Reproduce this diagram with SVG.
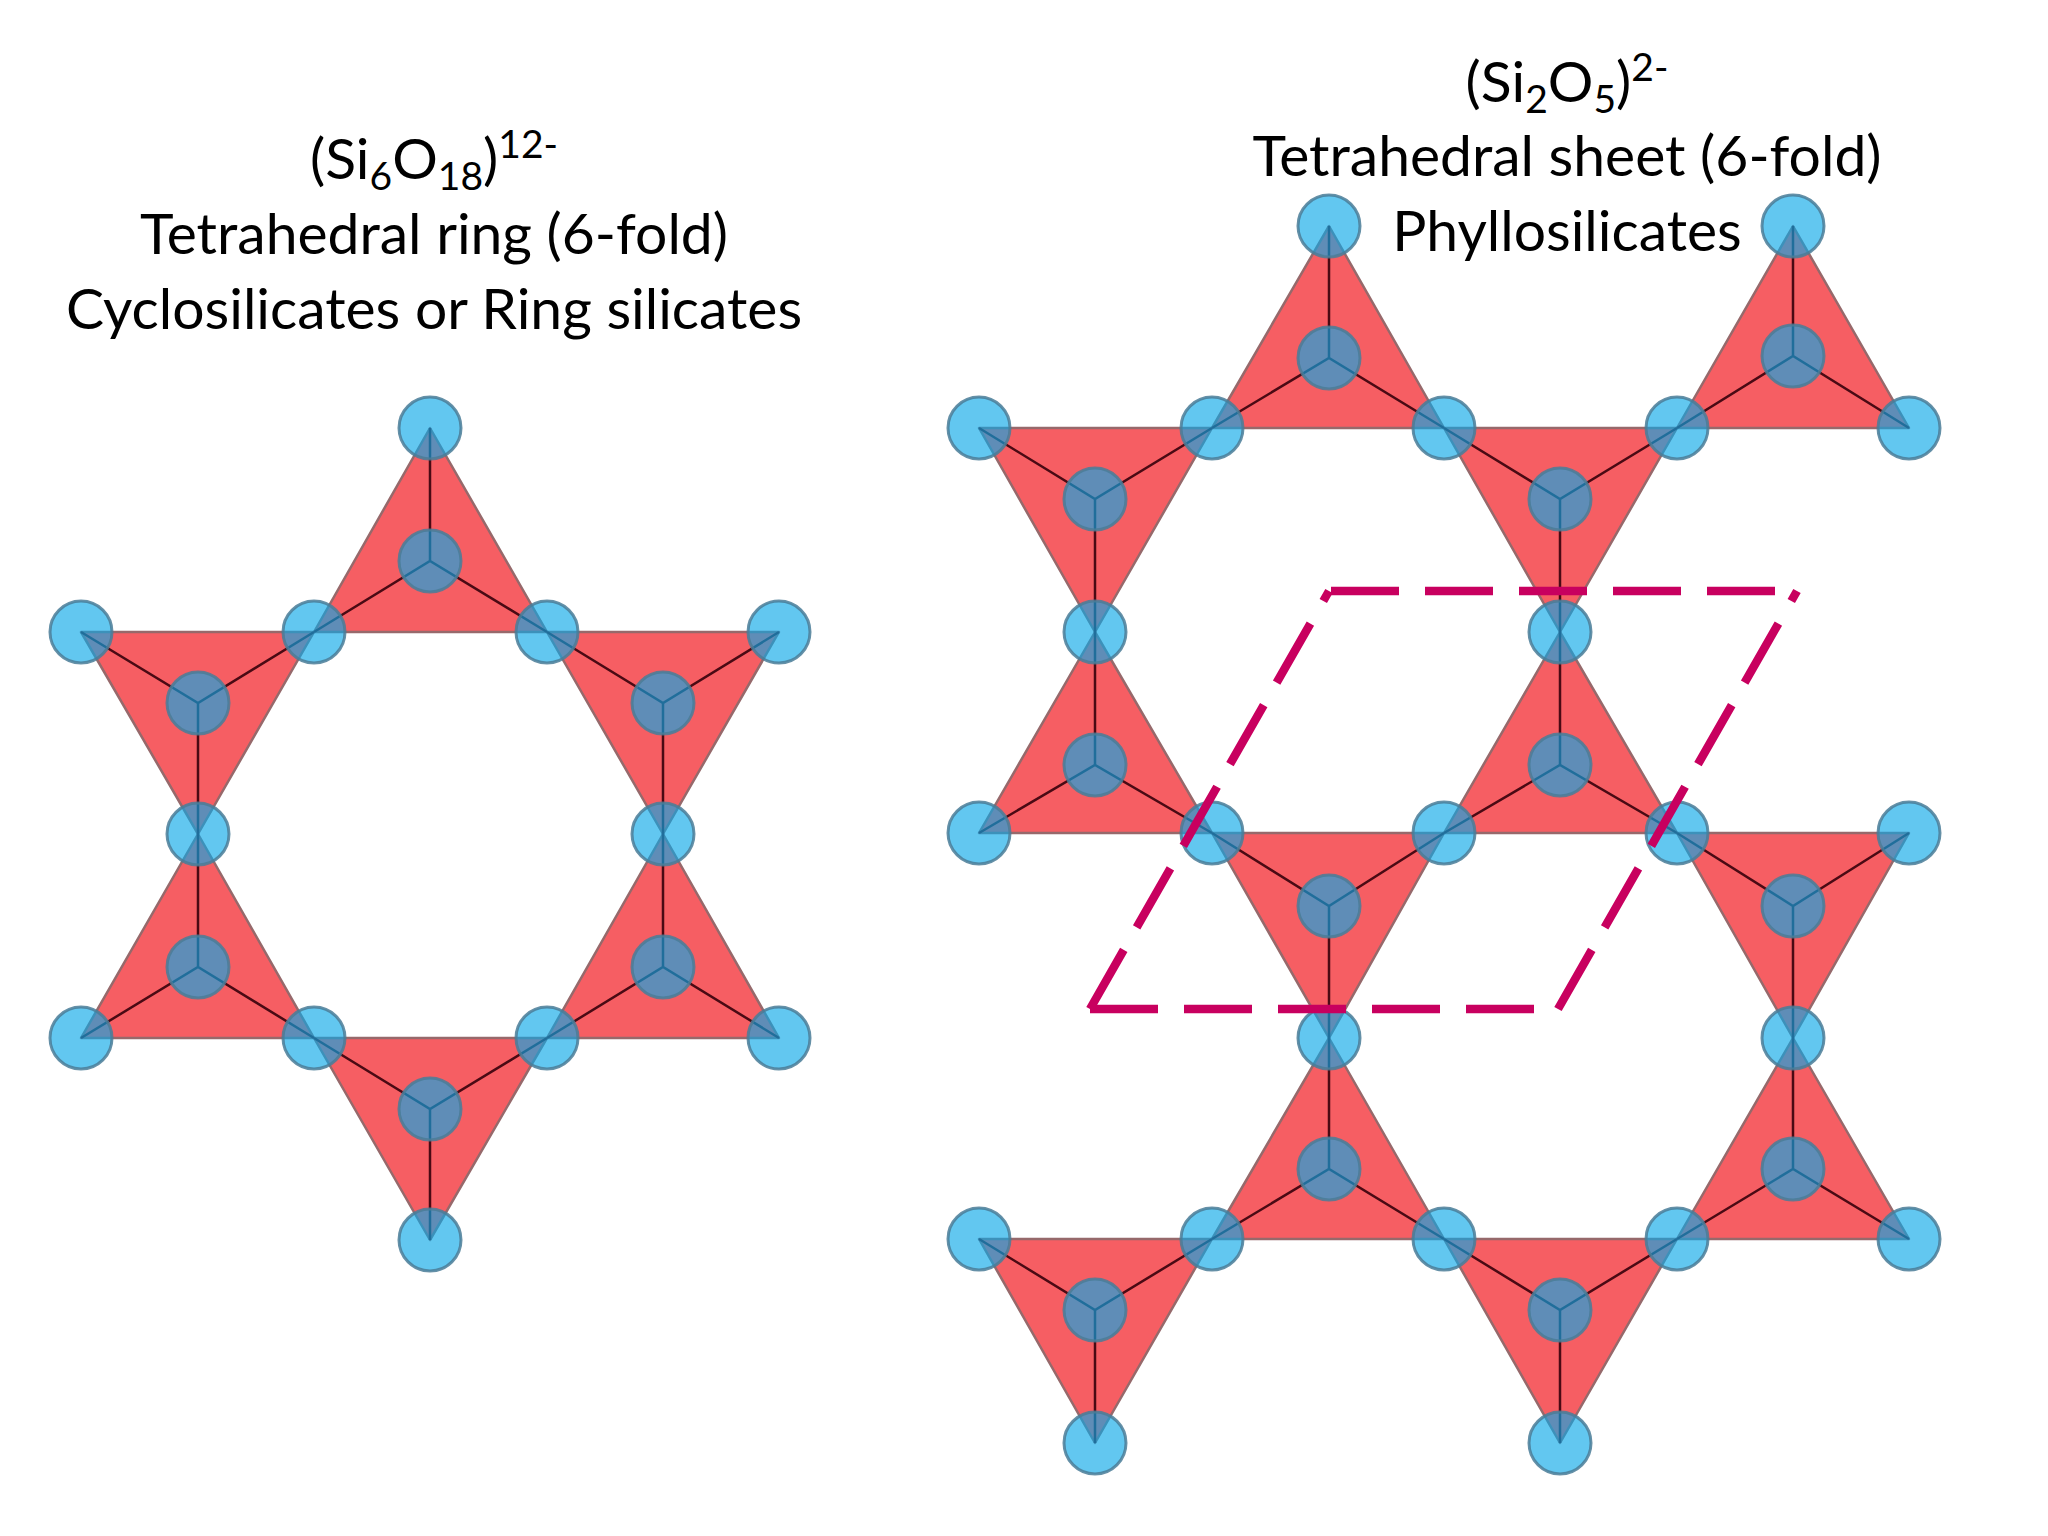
<svg xmlns="http://www.w3.org/2000/svg" width="2048" height="1536" viewBox="0 0 2048 1536">
<style>
.t{fill:#f65e63;stroke:#96696b;stroke-width:2.5;stroke-linejoin:round}
.b{fill:none;stroke:#4a0a14;stroke-width:2.5}
.o{fill:#0aa8e8;fill-opacity:.64;stroke:#4a7c98;stroke-opacity:.85;stroke-width:3}
.d{stroke:#c8005f;stroke-width:8.5;stroke-dasharray:68 26;fill:none}
text{font-family:"Lato","Open Sans","Liberation Sans",sans-serif;font-size:57px;fill:#000;text-anchor:middle}
.s{font-size:39px}
</style>
<rect width="2048" height="1536" fill="#fff"/>
<g id="molecules" transform="translate(1 1)">
<g id="ring-tetrahedra">
<polygon id="ring-t1" class="t" points="429,427 313,631 546,631"/>
<polygon id="ring-t2" class="t" points="80,631 313,631 197,833"/>
<polygon id="ring-t3" class="t" points="546,631 778,631 662,833"/>
<polygon id="ring-t4" class="t" points="197,833 80,1037 313,1037"/>
<polygon id="ring-t5" class="t" points="662,833 546,1037 778,1037"/>
<polygon id="ring-t6" class="t" points="313,1037 546,1037 429,1239"/>
</g>
<g id="sheet-tetrahedra">
<polygon id="sheet-t1" class="t" points="1328,225 1211,427 1443,427"/>
<polygon id="sheet-t2" class="t" points="1792,225 1676,427 1908,427"/>
<polygon id="sheet-t3" class="t" points="978,427 1211,427 1094,631"/>
<polygon id="sheet-t4" class="t" points="1443,427 1676,427 1559,631"/>
<polygon id="sheet-t5" class="t" points="1094,631 978,832 1211,832"/>
<polygon id="sheet-t6" class="t" points="1559,631 1443,832 1676,832"/>
<polygon id="sheet-t7" class="t" points="1211,832 1443,832 1328,1037"/>
<polygon id="sheet-t8" class="t" points="1676,832 1908,832 1792,1037"/>
<polygon id="sheet-t9" class="t" points="1328,1037 1211,1238 1443,1238"/>
<polygon id="sheet-t10" class="t" points="1792,1037 1676,1238 1908,1238"/>
<polygon id="sheet-t11" class="t" points="978,1238 1211,1238 1094,1442"/>
<polygon id="sheet-t12" class="t" points="1443,1238 1676,1238 1559,1442"/>
</g>
<g id="connectors">
<path class="b" d="M429,427L429,560M313,631L429,560L546,631"/>
<path class="b" d="M80,631L197,702L313,631M197,702L197,833"/>
<path class="b" d="M546,631L662,702L778,631M662,702L662,833"/>
<path class="b" d="M197,833L197,966M80,1037L197,966L313,1037"/>
<path class="b" d="M662,833L662,966M546,1037L662,966L778,1037"/>
<path class="b" d="M313,1037L429,1108L546,1037M429,1108L429,1239"/>
<path class="b" d="M1328,225L1328,357M1211,427L1328,357L1443,427"/>
<path class="b" d="M1792,225L1792,355M1676,427L1792,355L1908,427"/>
<path class="b" d="M978,427L1094,498L1211,427M1094,498L1094,631"/>
<path class="b" d="M1443,427L1559,498L1676,427M1559,498L1559,631"/>
<path class="b" d="M1094,631L1094,764M978,832L1094,764L1211,832"/>
<path class="b" d="M1559,631L1559,764M1443,832L1559,764L1676,832"/>
<path class="b" d="M1211,832L1328,905L1443,832M1328,905L1328,1037"/>
<path class="b" d="M1676,832L1792,905L1908,832M1792,905L1792,1037"/>
<path class="b" d="M1328,1037L1328,1168M1211,1238L1328,1168L1443,1238"/>
<path class="b" d="M1792,1037L1792,1168M1676,1238L1792,1168L1908,1238"/>
<path class="b" d="M978,1238L1094,1309L1211,1238M1094,1309L1094,1442"/>
<path class="b" d="M1443,1238L1559,1309L1676,1238M1559,1309L1559,1442"/>
</g>
<g id="ring-atoms">
<circle id="ring-o1" class="o" cx="429" cy="427" r="31"/>
<circle id="ring-o2" class="o" cx="80" cy="631" r="31"/>
<circle id="ring-o3" class="o" cx="313" cy="631" r="31"/>
<circle id="ring-o4" class="o" cx="546" cy="631" r="31"/>
<circle id="ring-o5" class="o" cx="778" cy="631" r="31"/>
<circle id="ring-o6" class="o" cx="197" cy="833" r="31"/>
<circle id="ring-o7" class="o" cx="662" cy="833" r="31"/>
<circle id="ring-o8" class="o" cx="80" cy="1037" r="31"/>
<circle id="ring-o9" class="o" cx="313" cy="1037" r="31"/>
<circle id="ring-o10" class="o" cx="546" cy="1037" r="31"/>
<circle id="ring-o11" class="o" cx="778" cy="1037" r="31"/>
<circle id="ring-o12" class="o" cx="429" cy="1239" r="31"/>
<circle id="ring-si1" class="o" cx="429" cy="560" r="31"/>
<circle id="ring-si2" class="o" cx="197" cy="702" r="31"/>
<circle id="ring-si3" class="o" cx="662" cy="702" r="31"/>
<circle id="ring-si4" class="o" cx="197" cy="966" r="31"/>
<circle id="ring-si5" class="o" cx="662" cy="966" r="31"/>
<circle id="ring-si6" class="o" cx="429" cy="1108" r="31"/>
</g>
<g id="sheet-atoms">
<circle id="sheet-o1" class="o" cx="1328" cy="225" r="31"/>
<circle id="sheet-o2" class="o" cx="1792" cy="225" r="31"/>
<circle id="sheet-o3" class="o" cx="978" cy="427" r="31"/>
<circle id="sheet-o4" class="o" cx="1211" cy="427" r="31"/>
<circle id="sheet-o5" class="o" cx="1443" cy="427" r="31"/>
<circle id="sheet-o6" class="o" cx="1676" cy="427" r="31"/>
<circle id="sheet-o7" class="o" cx="1908" cy="427" r="31"/>
<circle id="sheet-o8" class="o" cx="1094" cy="631" r="31"/>
<circle id="sheet-o9" class="o" cx="1559" cy="631" r="31"/>
<circle id="sheet-o10" class="o" cx="978" cy="832" r="31"/>
<circle id="sheet-o11" class="o" cx="1211" cy="832" r="31"/>
<circle id="sheet-o12" class="o" cx="1443" cy="832" r="31"/>
<circle id="sheet-o13" class="o" cx="1676" cy="832" r="31"/>
<circle id="sheet-o14" class="o" cx="1908" cy="832" r="31"/>
<circle id="sheet-o15" class="o" cx="1328" cy="1037" r="31"/>
<circle id="sheet-o16" class="o" cx="1792" cy="1037" r="31"/>
<circle id="sheet-o17" class="o" cx="978" cy="1238" r="31"/>
<circle id="sheet-o18" class="o" cx="1211" cy="1238" r="31"/>
<circle id="sheet-o19" class="o" cx="1443" cy="1238" r="31"/>
<circle id="sheet-o20" class="o" cx="1676" cy="1238" r="31"/>
<circle id="sheet-o21" class="o" cx="1908" cy="1238" r="31"/>
<circle id="sheet-o22" class="o" cx="1094" cy="1442" r="31"/>
<circle id="sheet-o23" class="o" cx="1559" cy="1442" r="31"/>
<circle id="sheet-si1" class="o" cx="1328" cy="357" r="31"/>
<circle id="sheet-si2" class="o" cx="1792" cy="355" r="31"/>
<circle id="sheet-si3" class="o" cx="1094" cy="498" r="31"/>
<circle id="sheet-si4" class="o" cx="1559" cy="498" r="31"/>
<circle id="sheet-si5" class="o" cx="1094" cy="764" r="31"/>
<circle id="sheet-si6" class="o" cx="1559" cy="764" r="31"/>
<circle id="sheet-si7" class="o" cx="1328" cy="905" r="31"/>
<circle id="sheet-si8" class="o" cx="1792" cy="905" r="31"/>
<circle id="sheet-si9" class="o" cx="1328" cy="1168" r="31"/>
<circle id="sheet-si10" class="o" cx="1792" cy="1168" r="31"/>
<circle id="sheet-si11" class="o" cx="1094" cy="1309" r="31"/>
<circle id="sheet-si12" class="o" cx="1559" cy="1309" r="31"/>
</g>
</g>
<g id="unit-cell">
<line class="d" x1="1090" y1="1009" x2="1558" y2="1009"/>
<line class="d" x1="1331" y1="591" x2="1797" y2="591"/>
<line class="d" x1="1090" y1="1009" x2="1329" y2="591"/>
<line class="d" x1="1558" y1="1009" x2="1797" y2="591"/>
</g>
<g id="label-left">
<text x="434" y="179">(Si<tspan class="s" dy="11">6</tspan><tspan dy="-11">O</tspan><tspan class="s" dy="11">18</tspan><tspan dy="-11">)</tspan><tspan class="s" dy="-21">12-</tspan></text>
<text x="434" y="254">Tetrahedral ring (6-fold)</text>
<text x="434" y="329">Cyclosilicates or Ring silicates</text>
</g>
<g id="label-right">
<text x="1567" y="102">(Si<tspan class="s" dy="11">2</tspan><tspan dy="-11">O</tspan><tspan class="s" dy="11">5</tspan><tspan dy="-11">)</tspan><tspan class="s" dy="-21">2-</tspan></text>
<text x="1567" y="176">Tetrahedral sheet (6-fold)</text>
<text x="1567" y="251">Phyllosilicates</text>
</g>
</svg>
